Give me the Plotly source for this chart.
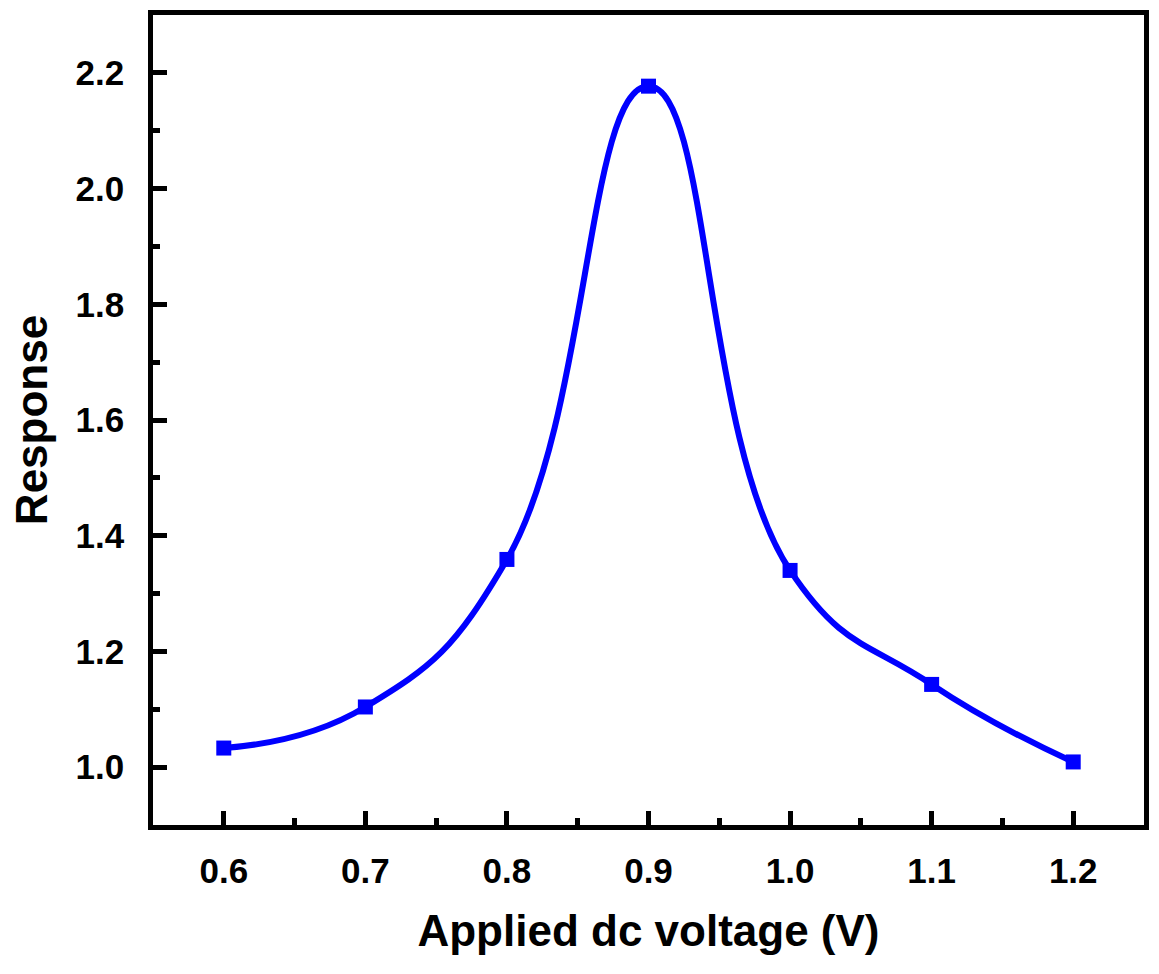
import plotly.graph_objects as go

voltage = [0.6, 0.7, 0.8, 0.9, 1.0, 1.1, 1.2]
response = [1.033, 1.104, 1.359, 2.177, 1.340, 1.143, 1.009]

x_ticks = [0.6, 0.7, 0.8, 0.9, 1.0, 1.1, 1.2]
x_labels = ["0.6", "0.7", "0.8", "0.9", "1.0", "1.1", "1.2"]
y_ticks = [1.0, 1.2, 1.4, 1.6, 1.8, 2.0, 2.2]
y_labels = ["1.0", "1.2", "1.4", "1.6", "1.8", "2.0", "2.2"]

FONT = "Liberation Sans, Arial, sans-serif"

fig = go.Figure()
fig.add_trace(go.Scatter(
    x=voltage, y=response,
    mode="lines+markers",
    line=dict(color="#0000FF", width=6, shape="spline", smoothing=1.3),
    marker=dict(symbol="square", size=15, color="#0000FF"),
    showlegend=False,
))

axis_common = dict(
    showline=True, linewidth=4.5, linecolor="black", mirror=True,
    ticks="inside", ticklen=14, tickwidth=5, tickcolor="black",
    showgrid=False, zeroline=False,
    tickfont=dict(family=FONT, size=35, color="black", weight="bold"),
)

fig.update_xaxes(
    range=[0.55, 1.25],
    tickvals=x_ticks, ticktext=x_labels,
    minor=dict(dtick=0.05, tick0=0.55, ticks="inside", ticklen=7, tickwidth=5, tickcolor="black"),
    title=dict(text="Applied dc voltage (V)", font=dict(family=FONT, size=44, color="black", weight="bold"), standoff=28),
    ticklabelstandoff=11,
    **axis_common,
)
fig.update_yaxes(
    range=[0.9, 2.3],
    tickvals=y_ticks, ticktext=y_labels,
    minor=dict(dtick=0.1, tick0=0.9, ticks="inside", ticklen=7, tickwidth=5, tickcolor="black"),
    title=dict(text="Response", font=dict(family=FONT, size=44, color="black", weight="bold"), standoff=16),
    ticklabelstandoff=17,
    **axis_common,
)

fig.update_layout(
    width=1159, height=974,
    margin=dict(l=153, r=10, t=14, b=149),
    paper_bgcolor="white", plot_bgcolor="white",
)

fig.write_html("out.html")
